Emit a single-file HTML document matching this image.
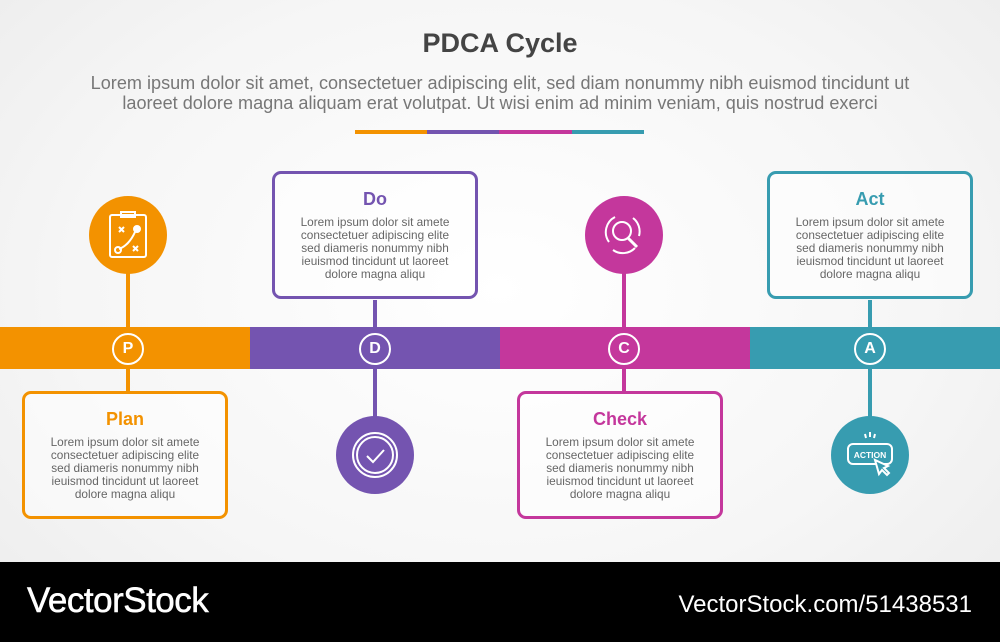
<!DOCTYPE html>
<html><head><meta charset="utf-8"><style>
body{margin:0;width:1000px;height:642px;overflow:hidden;font-family:"Liberation Sans",sans-serif;background:radial-gradient(ellipse at 50% 45%,#ffffff 0%,#f6f6f6 60%,#ececec 100%);position:relative}
.a{position:absolute}
.box{position:absolute;width:200px;height:122px;border:3px solid;border-radius:9px;box-sizing:content-box;background:rgba(255,255,255,0.5);text-align:center}
.box h3{margin:15px 0 6px;font-size:18px;font-weight:bold}
.box p{margin:0;font-size:11.8px;line-height:13px;color:#666}
.bar{position:absolute;top:327px;height:42px;width:250px}
.lc{position:absolute;width:28px;height:28px;border:2px solid #fff;border-radius:50%;color:#fff;font-weight:bold;font-size:16px;line-height:28px;text-align:center;top:333px}
.ln{position:absolute;width:4px}
.ic{position:absolute;width:78px;height:78px;border-radius:50%}
</style></head><body>
<div class="a" style="top:28px;width:1000px;text-align:center;font-size:27px;font-weight:bold;color:#444">PDCA Cycle</div>
<div class="a" style="top:73px;width:1000px;text-align:center;font-size:18.1px;line-height:20px;color:#777;white-space:nowrap">Lorem ipsum dolor sit amet, consectetuer adipiscing elit, sed diam nonummy nibh euismod tincidunt ut<br>laoreet dolore magna aliquam erat volutpat. Ut wisi enim ad minim veniam, quis nostrud exerci</div>
<div class="a" style="top:130px;left:355px;width:72px;height:4px;background:#f39200"></div>
<div class="a" style="top:130px;left:427px;width:72px;height:4px;background:#7454b0"></div>
<div class="a" style="top:130px;left:499px;width:73px;height:4px;background:#c4379c"></div>
<div class="a" style="top:130px;left:572px;width:72px;height:4px;background:#379cb0"></div>

<div class="bar" style="left:0;background:#f39200"></div>
<div class="bar" style="left:250px;background:#7454b0"></div>
<div class="bar" style="left:500px;background:#c4379c"></div>
<div class="bar" style="left:750px;background:#379cb0"></div>

<div class="ln" style="left:126px;top:272px;height:120px;background:#f39200"></div>
<div class="ln" style="left:373px;top:300px;height:120px;background:#7454b0"></div>
<div class="ln" style="left:622px;top:272px;height:120px;background:#c4379c"></div>
<div class="ln" style="left:868px;top:300px;height:120px;background:#379cb0"></div>

<div class="lc" style="left:112px;background:#f39200">P</div>
<div class="lc" style="left:359px;background:#7454b0">D</div>
<div class="lc" style="left:608px;background:#c4379c">C</div>
<div class="lc" style="left:854px;background:#379cb0">A</div>

<div class="box" style="left:22px;top:391px;border-color:#f39200"><h3 style="color:#f39200">Plan</h3><p>Lorem ipsum dolor sit amete<br>consectetuer adipiscing elite<br>sed diameris nonummy nibh<br>ieuismod tincidunt ut laoreet<br>dolore magna aliqu</p></div>
<div class="box" style="left:272px;top:171px;border-color:#7454b0"><h3 style="color:#7454b0">Do</h3><p>Lorem ipsum dolor sit amete<br>consectetuer adipiscing elite<br>sed diameris nonummy nibh<br>ieuismod tincidunt ut laoreet<br>dolore magna aliqu</p></div>
<div class="box" style="left:517px;top:391px;border-color:#c4379c"><h3 style="color:#c4379c">Check</h3><p>Lorem ipsum dolor sit amete<br>consectetuer adipiscing elite<br>sed diameris nonummy nibh<br>ieuismod tincidunt ut laoreet<br>dolore magna aliqu</p></div>
<div class="box" style="left:767px;top:171px;border-color:#379cb0"><h3 style="color:#379cb0">Act</h3><p>Lorem ipsum dolor sit amete<br>consectetuer adipiscing elite<br>sed diameris nonummy nibh<br>ieuismod tincidunt ut laoreet<br>dolore magna aliqu</p></div>

<div class="ic" style="left:89px;top:196px;background:#f39200"><svg width="78" height="78" fill="none" stroke="#fff" stroke-width="2"><rect x="21" y="19" width="36" height="42" rx="2"/><rect x="32" y="16" width="14" height="5"/><path d="M30 31l5 5M35 31l-5 5M44 50l5 5M49 50l-5 5M30 53c6-2 12-8 16-17"/><circle cx="29" cy="54" r="3"/><circle cx="48" cy="33" r="3" fill="#fff"/></svg></div>
<div class="ic" style="left:336px;top:416px;background:#7454b0"><svg width="78" height="78" fill="none" stroke="#fff" stroke-width="2"><circle cx="39" cy="39" r="22"/><circle cx="39" cy="39" r="18"/><path d="M31 40l6 6 11-12"/></svg></div>
<div class="ic" style="left:585px;top:196px;background:#c4379c"><svg width="78" height="78" fill="none" stroke="#fff" stroke-width="2"><circle cx="37" cy="35" r="9"/><path d="M43 42l9 9" stroke-width="3"/><path d="M24 46a17 17 0 0 1 6-25M48 22a17 17 0 0 1 6 18M50 52a17 17 0 0 1-22 2"/></svg></div>
<div class="ic" style="left:831px;top:416px;background:#379cb0"><svg width="78" height="78" fill="none" stroke="#fff" stroke-width="2"><rect x="17" y="28" width="44" height="20" rx="5"/><text x="39" y="42" fill="#fff" stroke="none" font-size="8.5" font-weight="bold" text-anchor="middle" font-family="Liberation Sans">ACTION</text><path d="M44 44l4 14 3-4 5 5 2-2-5-5 4-2z" fill="#379cb0"/><path d="M34 18l1 4M39 16v5M44 18l-1 4"/></svg></div>

<div class="a" style="left:0;top:562px;width:1000px;height:80px;background:#000"></div>
<div class="a" style="left:27px;top:581px;font-size:35px;color:#fff;letter-spacing:-0.5px;-webkit-text-stroke:0.5px #fff">VectorStock</div>
<div class="a" style="right:28px;top:591px;font-size:24px;color:#fff">VectorStock.com/51438531</div>
</body></html>
